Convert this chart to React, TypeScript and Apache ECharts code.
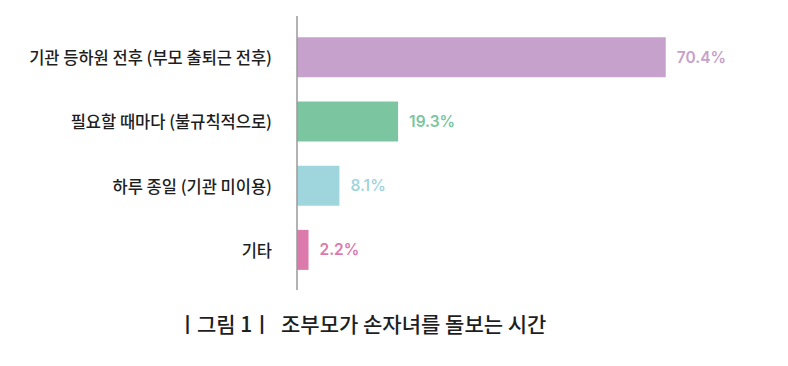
import React, { useEffect, useRef } from "react";
import * as echarts from "echarts";

const categories = [
  "기관 등하원 전후 (부모 출퇴근 전후)",
  "필요할 때마다 (불규칙적으로)",
  "하루 종일 (기관 미이용)",
  "기타",
];
const values = [70.4, 19.3, 8.1, 2.2];
const colors = ["#c5a1cb", "#7bc5a1", "#9fd6de", "#dc7bab"];
const title = "ㅣ그림 1ㅣ  조부모가 손자녀를 돌보는 시간";

export default function App() {
  const ref = useRef<HTMLDivElement>(null);
  useEffect(() => {
    if (!ref.current) return;
    const chart = echarts.init(ref.current, null, { renderer: "svg" });
    chart.setOption({
      animation: false,
      backgroundColor: "#ffffff",
      grid: { left: 297, top: 25, width: 419, height: 257, containLabel: false },
      xAxis: {
        type: "value",
        min: 0,
        max: 80,
        show: false,
      },
      yAxis: {
        type: "category",
        data: categories,
        inverse: true,
        axisLine: { show: false },
        axisTick: { show: false },
        axisLabel: {
          margin: 25,
          color: "#1e1e1e",
          fontSize: 16.5,
          fontWeight: 500,
          fontFamily: "Noto Sans CJK KR",
        },
      },
      series: [
        {
          type: "bar",
          barWidth: 40,
          data: values.map((v, i) => ({
            value: v,
            itemStyle: { color: colors[i] },
            label: { color: colors[i] },
          })),
          label: {
            show: true,
            position: "right",
            distance: 11,
            formatter: (p: any) => p.value.toFixed(1) + "%",
            fontSize: 15.5,
            fontWeight: 600,
            fontFamily: "Inter",
          },
        },
      ],
      graphic: [
        {
          type: "line",
          shape: { x1: 297, y1: 16, x2: 297, y2: 290 },
          style: { stroke: "#9a9a9a", lineWidth: 1.5 },
          z: 10,
        },
        {
          type: "text",
          x: 362,
          y: 323,
          style: {
            text: title,
            fontSize: 21,
            fontWeight: 500,
            fill: "#1e1e1e",
            fontFamily: "Noto Sans CJK KR",
            textAlign: "center",
            textVerticalAlign: "middle",
          },
        },
      ],
    });
    return () => chart.dispose();
  }, []);
  return <div ref={ref} style={{ width: 788, height: 366, margin: -8 }} />;
}
